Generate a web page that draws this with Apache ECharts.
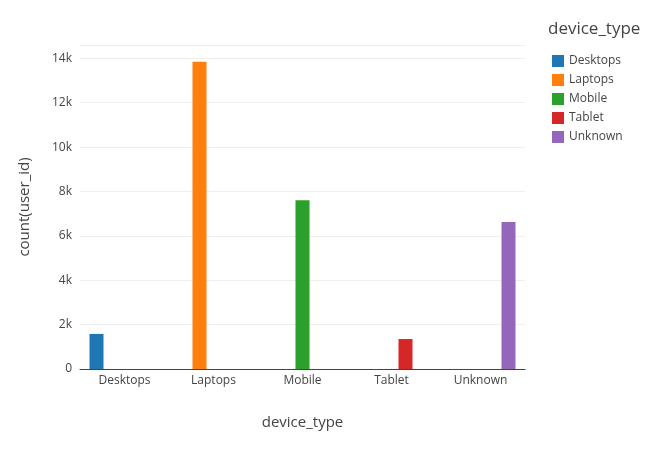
<!DOCTYPE html>
<html>
<head>
<meta charset="utf-8">
<script src="https://cdn.jsdelivr.net/npm/echarts@6/dist/echarts.min.js"></script>
<style>html,body{margin:0;padding:0;background:#fff}#chart{width:660px;height:450px}</style>
</head>
<body>
<div id="chart"></div>
<script>
// 数据
const categories = ['Desktops', 'Laptops', 'Mobile', 'Tablet', 'Unknown'];
const counts = [1580, 13850, 7600, 1350, 6620];
const seriesColors = ['#1f77b4', '#ff7f0e', '#2ca02c', '#d62728', '#9467bd'];

const chart = echarts.init(document.getElementById('chart'));

// 每个系列只在自己的类别上有值
const series = categories.map((name, i) => ({
    name: name,
    type: 'bar',
    barWidth: 14,
    barGap: '0%',
    barCategoryGap: '20%',
    itemStyle: { color: seriesColors[i] },
    data: categories.map((c, j) => (j === i ? counts[i] : null))
}));

chart.setOption({
    animation: false,
    textStyle: { fontFamily: 'Open Sans, sans-serif' },
    grid: { left: 80, right: 135, top: 45, bottom: 81 },
    legend: {
        orient: 'vertical',
        left: 547,
        top: 50,
        itemWidth: 12,
        itemHeight: 12,
        itemGap: 7,
        icon: 'rect',
        textStyle: { fontSize: 12, color: '#444' },
        data: categories
    },
    graphic: [{
        type: 'text',
        left: 548,
        top: 21,
        style: { text: 'device_type', fontSize: 17, fill: '#444', fontFamily: 'Open Sans, sans-serif' }
    }],
    xAxis: {
        type: 'category',
        data: categories,
        name: 'device_type',
        nameLocation: 'middle',
        nameGap: 46,
        nameTextStyle: { fontSize: 15, color: '#444' },
        axisLine: { lineStyle: { color: '#444' } },
        axisTick: { show: false },
        axisLabel: { color: '#444', fontSize: 12, margin: 6 }
    },
    yAxis: {
        type: 'value',
        min: 0,
        max: 14600,
        interval: 2000,
        name: 'count(user_id)',
        nameLocation: 'middle',
        nameGap: 48,
        nameTextStyle: { fontSize: 15, color: '#444' },
        axisLine: { show: false },
        axisTick: { show: false },
        axisLabel: {
            color: '#444',
            fontSize: 12,
            showMaxLabel: false,
            formatter: v => (v === 0 ? '0' : (v / 1000) + 'k')
        },
        splitLine: { lineStyle: { color: '#eee' } }
    },
    series: series
});
</script>
</body>
</html>
